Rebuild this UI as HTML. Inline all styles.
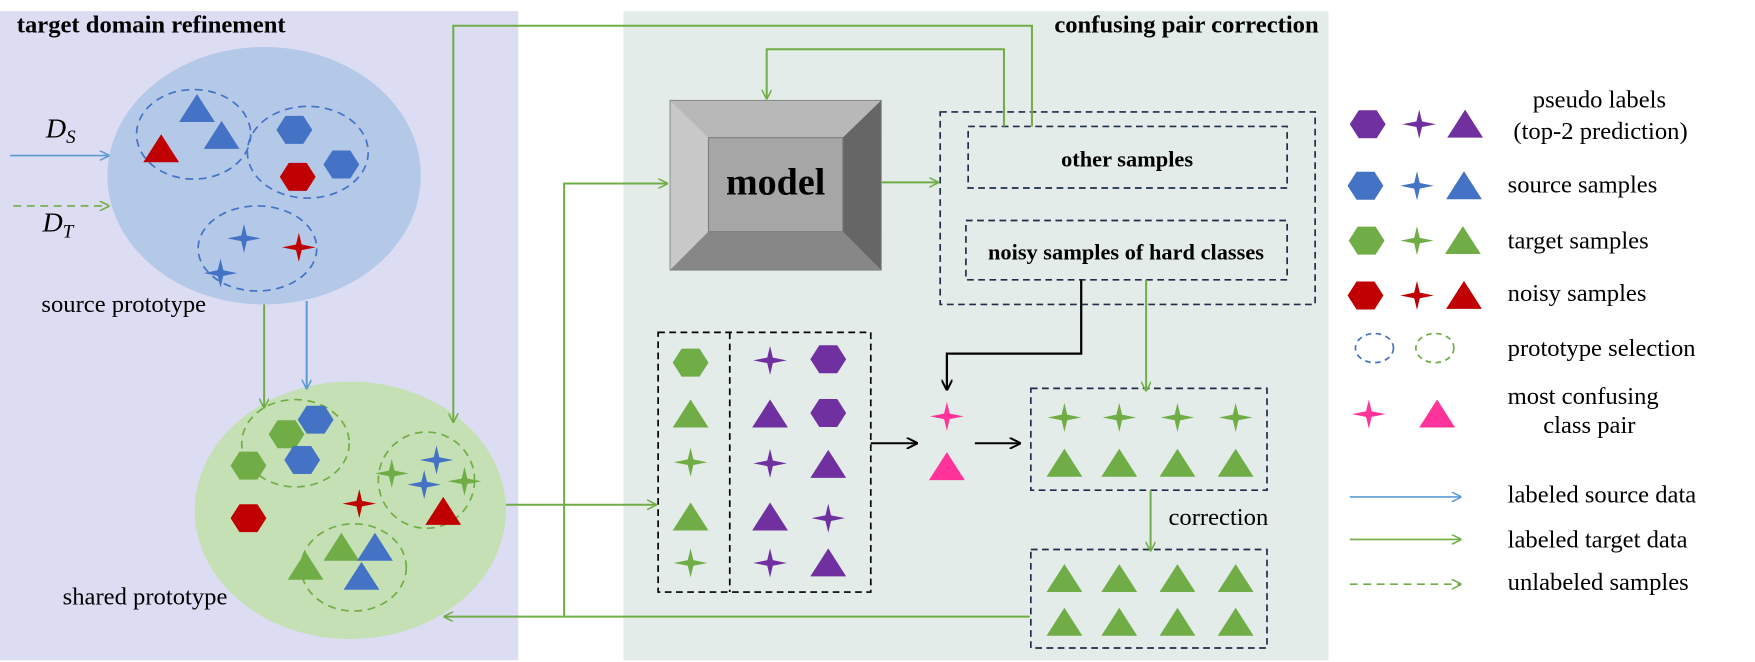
<!DOCTYPE html>
<html><head><meta charset="utf-8"><style>body{margin:0;background:#fff}svg{display:block}text{font-family:"Liberation Serif",serif}</style></head><body>
<svg width="1755" height="662" viewBox="0 0 1568 591.5" preserveAspectRatio="none" xmlns="http://www.w3.org/2000/svg">
<defs>
<polygon id="hx" points="-16,0 -8,-12.5 8,-12.5 16,0 8,12.5 -8,12.5"/>
<polygon id="st" points="0,-13 2.5,-2.5 15,0 2.5,2.5 0,13 -2.5,2.5 -15,0 -2.5,-2.5"/>
<polygon id="tr" points="0,-13 16,12 -16,12"/>
<marker id="ag" viewBox="0 0 10 10" refX="9" refY="5" markerWidth="9" markerHeight="9" orient="auto" markerUnits="userSpaceOnUse"><path d="M0,0 L10,5 L0,10" fill="none" stroke="#70ad47" stroke-width="1.5"/></marker>
<marker id="ab" viewBox="0 0 10 10" refX="9" refY="5" markerWidth="9" markerHeight="9" orient="auto" markerUnits="userSpaceOnUse"><path d="M0,0 L10,5 L0,10" fill="none" stroke="#5b9bd5" stroke-width="1.5"/></marker>
<marker id="ak" viewBox="0 0 10 10" refX="9" refY="5" markerWidth="10" markerHeight="10" orient="auto" markerUnits="userSpaceOnUse"><path d="M0,0 L10,5 L0,10" fill="none" stroke="#000" stroke-width="1.8"/></marker>
</defs>
<rect x="0" y="10" width="463" height="580" fill="#dcdcf3"/>
<rect x="557" y="10" width="630" height="580" fill="#e3ece9"/>
<text x="15" y="29" font-size="22" font-weight="bold">target domain refinement</text>
<text x="942" y="29" font-size="22" font-weight="bold">confusing pair correction</text>

<ellipse cx="236" cy="157" rx="140" ry="115" fill="#b4c8e8"/>
<ellipse cx="313" cy="456" rx="139" ry="115" fill="#c5e0b4"/>
<g fill="none" stroke="#4472c4" stroke-width="1.5" stroke-dasharray="7,5">
<ellipse cx="173" cy="120" rx="51" ry="40"/><ellipse cx="275" cy="136" rx="54" ry="41"/><ellipse cx="230" cy="222" rx="53" ry="38"/></g>
<g fill="#4472c4"><use href="#tr" x="176" y="97"/><use href="#tr" x="198" y="121"/><use href="#hx" x="263" y="116"/><use href="#hx" x="305" y="147"/><use href="#st" x="218" y="213"/><use href="#st" x="197" y="244"/></g>
<g fill="#c00000"><use href="#tr" x="144" y="133"/><use href="#hx" x="266" y="158"/><use href="#st" x="267" y="221"/></g>
<text x="37" y="279" font-size="22">source prototype</text>
<text x="41" y="123" font-size="25" font-style="italic">D<tspan font-size="17" dy="5">S</tspan></text>
<text x="38" y="207" font-size="25" font-style="italic">D<tspan font-size="17" dy="5">T</tspan></text>
<line x1="9" y1="139" x2="97" y2="139" stroke="#5b9bd5" stroke-width="1.5" marker-end="url(#ab)"/>
<line x1="12" y1="184" x2="97" y2="184" stroke="#70ad47" stroke-width="1.5" stroke-dasharray="7,5" marker-end="url(#ag)"/>
<line x1="236" y1="272" x2="236" y2="364" stroke="#70ad47" stroke-width="1.8" marker-end="url(#ag)"/>
<line x1="274" y1="269" x2="274" y2="347" stroke="#5b9bd5" stroke-width="1.8" marker-end="url(#ab)"/>

<g fill="none" stroke="#70ad47" stroke-width="1.5" stroke-dasharray="7,5">
<ellipse cx="264" cy="396" rx="48" ry="39"/><ellipse cx="381" cy="429" rx="43" ry="43"/><ellipse cx="316" cy="507" rx="47" ry="39"/></g>
<g fill="#70ad47"><use href="#hx" x="256" y="388"/><use href="#hx" x="222" y="416"/><use href="#st" x="350" y="423"/><use href="#st" x="415" y="430"/><use href="#tr" x="305" y="489"/><use href="#tr" x="273" y="506"/></g>
<g fill="#4472c4"><use href="#hx" x="282" y="375"/><use href="#hx" x="270" y="411"/><use href="#st" x="390" y="411"/><use href="#st" x="379" y="433"/><use href="#tr" x="335" y="489"/><use href="#tr" x="323" y="515"/></g>
<g fill="#c00000"><use href="#hx" x="222" y="463"/><use href="#st" x="321" y="450"/><use href="#tr" x="396" y="457"/></g>
<text x="56" y="540" font-size="22">shared prototype</text>

<rect x="599" y="90" width="188" height="151" fill="#aaa" stroke="#7f7f7f" stroke-width="1.5"/>
<polygon points="599,90 787,90 753,123 633,123" fill="#b8b8b8"/>
<polygon points="599,90 633,123 633,207 599,241" fill="#c8c8c8"/>
<polygon points="787,90 753,123 753,207 787,241" fill="#666"/>
<polygon points="599,241 633,207 753,207 787,241" fill="#878787"/>
<rect x="633" y="123" width="120" height="84" fill="#a6a6a6" stroke="#7f7f7f" stroke-width="1"/>
<text x="693" y="174" font-size="34" font-weight="bold" text-anchor="middle">model</text>

<g fill="none" stroke="#1f2d4a" stroke-width="1.5" stroke-dasharray="6,4">
<rect x="840" y="100" width="335" height="172"/><rect x="865" y="113" width="285" height="55"/><rect x="863" y="197" width="287" height="53"/>
<rect x="921" y="347" width="211" height="91"/><rect x="921" y="491" width="211" height="88"/></g>
<text x="1007" y="149" font-size="20" font-weight="bold" text-anchor="middle">other samples</text>
<text x="1006" y="232" font-size="20" font-weight="bold" text-anchor="middle">noisy samples of hard classes</text>

<g fill="none" stroke="#000" stroke-width="1.5" stroke-dasharray="6,4"><rect x="588" y="297" width="190" height="232"/><line x1="652" y1="297" x2="652" y2="529"/></g>
<g fill="#70ad47"><use href="#hx" x="617" y="324"/><use href="#tr" x="617" y="370"/><use href="#st" x="617" y="413"/><use href="#tr" x="617" y="462"/><use href="#st" x="617" y="503"/></g>
<g fill="#7030a0"><use href="#st" x="688" y="322"/><use href="#tr" x="688" y="370"/><use href="#st" x="688" y="414"/><use href="#tr" x="688" y="462"/><use href="#st" x="688" y="503"/>
<use href="#hx" x="740" y="321"/><use href="#hx" x="740" y="369"/><use href="#tr" x="740" y="415"/><use href="#st" x="740" y="463"/><use href="#tr" x="740" y="503"/></g>
<g fill="#ff3399"><use href="#st" x="846" y="372"/><use href="#tr" x="846" y="417"/></g>
<line x1="778" y1="396" x2="819" y2="396" stroke="#000" stroke-width="1.8" marker-end="url(#ak)"/>
<line x1="871" y1="396" x2="911" y2="396" stroke="#000" stroke-width="1.8" marker-end="url(#ak)"/>
<polyline points="966,250 966,316 846,316 846,348" fill="none" stroke="#000" stroke-width="2" marker-end="url(#ak)"/>
<g fill="#70ad47"><use href="#st" x="951" y="373"/><use href="#st" x="1000" y="373"/><use href="#st" x="1052" y="373"/><use href="#st" x="1104" y="373"/>
<use href="#tr" x="951" y="414"/><use href="#tr" x="1000" y="414"/><use href="#tr" x="1052" y="414"/><use href="#tr" x="1104" y="414"/>
<use href="#tr" x="951" y="517"/><use href="#tr" x="1000" y="517"/><use href="#tr" x="1052" y="517"/><use href="#tr" x="1104" y="517"/>
<use href="#tr" x="951" y="556"/><use href="#tr" x="1000" y="556"/><use href="#tr" x="1052" y="556"/><use href="#tr" x="1104" y="556"/></g>
<text x="1044" y="469" font-size="22">correction</text>

<g fill="none" stroke="#70ad47" stroke-width="1.8">
<line x1="1024" y1="250" x2="1024" y2="349" marker-end="url(#ag)"/>
<line x1="1028" y1="438" x2="1028" y2="492" marker-end="url(#ag)"/>
<line x1="787" y1="163" x2="838" y2="163" marker-end="url(#ag)"/>
<line x1="920" y1="551" x2="397" y2="551" marker-end="url(#ag)"/>
<polyline points="504,551 504,164 596,164" marker-end="url(#ag)"/>
<line x1="452" y1="451" x2="586" y2="451" marker-end="url(#ag)"/>
<polyline points="922,113 922,23 405,23 405,377" marker-end="url(#ag)"/>
<polyline points="897,113 897,44 685,44 685,88" marker-end="url(#ag)"/>
</g>

<g fill="#7030a0"><use href="#hx" x="1222" y="111"/><use href="#st" x="1268" y="111"/><use href="#tr" x="1309" y="111"/></g>
<g fill="#4472c4"><use href="#hx" x="1220" y="166"/><use href="#st" x="1266" y="166"/><use href="#tr" x="1308" y="166"/></g>
<g fill="#70ad47"><use href="#hx" x="1221" y="215"/><use href="#st" x="1266" y="215"/><use href="#tr" x="1307" y="215"/></g>
<g fill="#c00000"><use href="#hx" x="1220" y="264"/><use href="#st" x="1266" y="264"/><use href="#tr" x="1308" y="264"/></g>
<ellipse cx="1228" cy="311" rx="17" ry="13" fill="none" stroke="#4472c4" stroke-width="1.5" stroke-dasharray="5,4"/>
<ellipse cx="1282" cy="311" rx="17" ry="13" fill="none" stroke="#70ad47" stroke-width="1.5" stroke-dasharray="5,4"/>
<g fill="#ff3399"><use href="#st" x="1223" y="370"/><use href="#tr" x="1284" y="370"/></g>
<g font-size="22">
<text x="1429" y="96" text-anchor="middle">pseudo labels</text><text x="1430" y="124" text-anchor="middle">(top-2 prediction)</text>
<text x="1347" y="172">source samples</text><text x="1347" y="222">target samples</text><text x="1347" y="269">noisy samples</text>
<text x="1347" y="318">prototype selection</text><text x="1347" y="361">most confusing</text><text x="1420" y="387" text-anchor="middle">class pair</text>
<text x="1347" y="449">labeled source data</text><text x="1347" y="489">labeled target data</text><text x="1347" y="527">unlabeled samples</text></g>
<line x1="1206" y1="444" x2="1305" y2="444" stroke="#5b9bd5" stroke-width="1.5" marker-end="url(#ab)"/>
<line x1="1206" y1="482" x2="1305" y2="482" stroke="#70ad47" stroke-width="1.5" marker-end="url(#ag)"/>
<line x1="1206" y1="522" x2="1305" y2="522" stroke="#70ad47" stroke-width="1.5" stroke-dasharray="7,5" marker-end="url(#ag)"/>
</svg>
</body></html>
